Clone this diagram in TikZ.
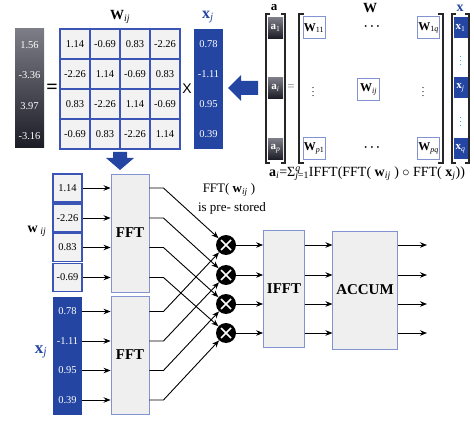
\documentclass[tikz,border=0pt]{standalone}
\usepackage{fontspec}
\setmainfont{Liberation Serif}
\newfontfamily\sansx{Liberation Sans}
\usepackage{tikz}
\usetikzlibrary{calc,arrows.meta,positioning}
\definecolor{bluec}{HTML}{2446A2}
\definecolor{gridc}{HTML}{3A55B5}
\definecolor{cellbg}{HTML}{F2F2F2}
\definecolor{softc}{HTML}{8393D2}
\definecolor{boxbg}{HTML}{EFEFEF}
\definecolor{darktop}{HTML}{7D7D88}
\definecolor{darkbot}{HTML}{1C1C26}
\definecolor{dotc}{HTML}{2AA6DC}
\tikzset{
  ar/.style={-{Stealth[length=7pt,width=5.5pt]},line width=0.9pt,black},
  num/.style={inner sep=0pt,font=\fontsize{10.5}{12}\selectfont},
  cel/.style={num,draw=gridc,fill=cellbg,line width=1.1pt,minimum width=30,minimum height=30},
  xcel/.style={num,fill=bluec,text=white,minimum width=29},
  blk/.style={draw=softc,fill=boxbg,line width=0.9pt,font=\fontsize{15}{18}\selectfont\bfseries},
  mul/.style={circle,fill=black,minimum size=20,inner sep=0pt},
  brk/.style={line width=1.1pt,black!85},
  ab/.style={shade,top color=darktop,bottom color=darkbot,text=white,minimum width=15,minimum height=21,inner sep=0pt,font=\fontsize{11}{12}\selectfont},
  xb/.style={fill=bluec,text=white,minimum width=14,minimum height=21,inner sep=0pt,font=\fontsize{11}{12}\selectfont},
  wb/.style={draw=softc,fill=white,line width=1pt,minimum size=22,inner sep=0pt,font=\fontsize{12}{12}\selectfont},
  dts/.style={inner sep=0pt,font=\normalsize\boldmath}
}
\begin{document}
\begin{tikzpicture}[x=1pt,y=-1pt]
\useasboundingbox (0,0) rectangle (474,422);
\node[shade,top color=darktop,bottom color=darkbot,minimum width=29,minimum height=119,inner sep=0pt] (avec) at (29.5,88.5) {};
\foreach \v/\y [count=\k] in {1.56/45,-3.36/75,3.97/106,-3.16/136}
  \node[num,text=white] (av\k) at (29.5,\y) {\v};
\node[font=\fontsize{20}{20}\selectfont\bfseries] (eqa) at (52,89) {=};
\foreach \row [count=\r from 0] in {{1.14,-0.69,0.83,-2.26},{-2.26,1.14,-0.69,0.83},{0.83,-2.26,1.14,-0.69},{-0.69,0.83,-2.26,1.14}}
  \foreach \v [count=\c from 0] in \row
    \node[cel] (w\r\c) at (75+30*\c,44+30*\r) {\v};
\node[font=\fontsize{14}{14}\selectfont] (wlabt) at (120,17) {\textbf{W}\textsubscript{\textit{ij}}};
\node[font=\sansx\fontsize{14}{14}\selectfont] (times) at (187,89) {X};
\foreach \v/\y [count=\k] in {0.78/44,-1.11/74,0.95/104,0.39/134}
  \node[xcel,minimum height=30] (xt\k) at (208.5,\y) {\v};
\node[text=bluec,font=\fontsize{16}{16}\selectfont] (xlabt) at (208,17) {\textbf{x}\textsubscript{\textit{j}}};
\fill[bluec] (258,81) -- (241,81) -- (241,75) -- (228,88) -- (241,101) -- (241,95) -- (258,95) -- cycle;
\fill[bluec] (113,152) -- (127,152) -- (127,158) -- (134,158) -- (120,170) -- (106,158) -- (113,158) -- cycle;

\draw[brk] (270,14) -| (266,163) -- (270,163);
\draw[brk] (281,14) -| (285,163) -- (281,163);
\draw[brk] (304,14) -| (299,163) -- (304,163);
\draw[brk] (438,14) -| (443,163) -- (438,163);
\draw[brk] (456,14) -| (452,163) -- (456,163);
\draw[brk] (465,14) -| (469,163) -- (465,163);
\node[inner sep=0pt,font=\fontsize{13}{13}\selectfont\bfseries] (alab) at (274,8) {a};
\node[inner sep=0pt,font=\fontsize{14}{14}\selectfont\bfseries] (Wlab) at (370,8) {W};
\node[inner sep=0pt,text=bluec,font=\fontsize{14}{14}\selectfont\bfseries] (xlab) at (460,8) {x};
\node[ab] (a1) at (275.5,28) {\textbf{a}\textsubscript{1}};
\node[ab] (ai) at (275.5,88) {\textbf{a}\textsubscript{\textit{i}}};
\node[ab] (ap) at (275.5,149) {\textbf{a}\textsubscript{\textit{p}}};
\node[text=gray,font=\fontsize{13}{13}\selectfont] (eqb) at (291,88) {=};
\node[wb] (W11) at (314,28) {\textbf{W}\textsubscript{11}};
\node[wb] (W1q) at (428.5,28) {\textbf{W}\textsubscript{1\textit{q}}};
\node[wb] (Wij) at (368.5,89.5) {\textbf{W}\textsubscript{\textit{ij}}};
\node[wb] (Wp1) at (314,148.5) {\textbf{W}\textsubscript{\textit{p}1}};
\node[wb] (Wpq) at (428.5,148.5) {\textbf{W}\textsubscript{\textit{pq}}};
\node[dts,font=\large\boldmath] (dt1) at (372,27) {$\cdots$};
\node[dts,font=\large\boldmath] (dt2) at (372,148) {$\cdots$};
\node[dts] (dv1) at (313,89) {$\vdots$};
\node[dts] (dv2) at (423,89) {$\vdots$};
\node[xb] (x1) at (460.5,28) {\textbf{x}\textsubscript{1}};
\node[xb] (xj) at (460.5,88) {\textbf{x}\textsubscript{\textit{j}}};
\node[xb] (xq) at (460.5,148.5) {\textbf{x}\textsubscript{\textit{q}}};
\node[dts,text=dotc] (dx1) at (460.5,58) {$\vdots$};
\node[dts,text=dotc] (dx2) at (460.5,119) {$\vdots$};
\node[font=\fontsize{14}{14}\selectfont] (frm) at (367,174) {\textbf{a}\textsubscript{\textit{i}}=Σ\rlap{\textsuperscript{\textit{q}}}\textsubscript{\textit{j}=1}IFFT(FFT( \textbf{w}\textsubscript{\textit{ij}} ) $\circ$ FFT( \textbf{x}\textsubscript{\textit{j}}))};

\foreach \v/\y [count=\k] in {1.14/188,-2.26/218,0.83/247.5,-0.69/277.5}
  \node[cel,minimum width=29,minimum height=28] (wv\k) at (67.5,\y) {\v};
\foreach \v/\y [count=\k] in {0.78/311.5,-1.11/341,0.95/370.5,0.39/400}
  \node[xcel,minimum height=29.5] (xv\k) at (67.5,\y) {\v};
\node[font=\fontsize{14}{14}\selectfont] (wlab) at (37,231) {\textbf{w}\textsubscript{ \textit{ij}}};
\node[text=bluec,font=\fontsize{17}{17}\selectfont] (xlabb) at (41,352) {\textbf{x}\textsubscript{\textit{j}}};
\node[blk,minimum width=38,minimum height=118] (fftw) at (130,233) {FFT};
\node[blk,minimum width=38,minimum height=118] (fftx) at (130,355) {FFT};
\foreach \y [count=\k] in {245,275,304,333} {
  \node[mul] (m\k) at (226,\y) {};
  \draw[white,line width=1.5pt] ($(m\k)+(-5,-5)$) -- ($(m\k)+(5,5)$) ($(m\k)+(-5,5)$) -- ($(m\k)+(5,-5)$);
  \coordinate (o\k) at (427,\y);
}
\node[blk,minimum width=38,minimum height=117] (ifft) at (284,288.5) {IFFT};
\node[blk,minimum width=64,minimum height=118] (acc) at (365,290) {ACCUM};
\node[font=\fontsize{13}{13}\selectfont] (note1) at (229,190) {FFT( \textbf{w}\textsubscript{\textit{ij}} )};
\node[font=\fontsize{13}{13}\selectfont] (note2) at (232,208) {is pre- stored};
\foreach \k in {1,...,4} {
  \draw[ar] (wv\k) -- (fftw.west |- wv\k);
  \draw[ar] (xv\k) -- (fftx.west |- xv\k);
  \draw[ar] (fftw.east |- wv\k) -- ++(14,0) -- (m\k);
  \draw[ar] (fftx.east |- xv\k) -- ++(14,0) -- (m\k);
  \draw[ar] (m\k) -- (ifft.west |- m\k);
  \draw[ar] (ifft.east |- m\k) -- (acc.west |- m\k);
  \draw[ar] (acc.east |- m\k) -- (o\k);
}
\end{tikzpicture}
\end{document}
